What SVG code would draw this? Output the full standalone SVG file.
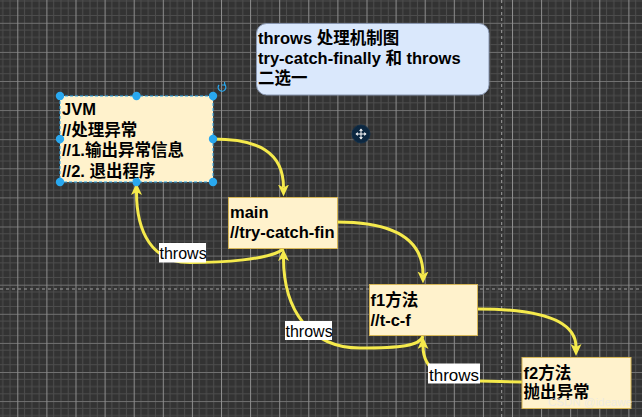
<svg xmlns="http://www.w3.org/2000/svg" width="642" height="417" viewBox="0 0 642 417">
<style>
.box{fill:#fff2cc;stroke:#d6b656;stroke-width:1}
.t{font-family:"Liberation Sans","Noto Sans CJK SC",sans-serif;font-weight:bold;font-size:16.5px;fill:#000}
.lbl{font-family:"Liberation Sans","Noto Sans CJK SC",sans-serif;font-size:16px;fill:#000}
.lblbg{fill:#fff}
.edge{fill:none;stroke:#f5ea4c;stroke-width:3}
.h{fill:#29a8ef}
</style>
<defs>
<pattern id="grid" x="17.3" y="22.8" width="29.1" height="29.1" patternUnits="userSpaceOnUse">
<rect width="29.1" height="29.1" fill="#333333"/>
<path d="M7.275,0V29.1M14.55,0V29.1M21.825,0V29.1M0,7.275H29.1M0,14.55H29.1M0,21.825H29.1" stroke="#4d4d4d" stroke-width="1"/>
<path d="M0,0.5H29.1" stroke="#727272" stroke-width="1"/>
<path d="M0.5,0V29.1" stroke="#8e8e8e" stroke-width="1"/>
</pattern>
<marker id="arr" markerUnits="userSpaceOnUse" markerWidth="13" markerHeight="12" refX="3" refY="5.5" orient="auto">
<path d="M0,0 L12,5.5 L0,11 L3,5.5 z" fill="#f5ea4c"/>
</marker>
</defs>
<rect width="642" height="417" fill="url(#grid)"/>
<path d="M0,289H642M501.7,0V417" stroke="#a0a0a0" stroke-width="1" stroke-dasharray="3,3" fill="none"/>

<g id="title">
<rect x="256.5" y="23.5" width="232.5" height="71.5" rx="10" fill="#dae8fc" stroke="#8896b0" stroke-width="1"/>
<text class="t" x="258" y="43.5">throws 处理机制图</text>
<text class="t" x="258" y="63.5">try-catch-finally 和 throws</text>
<text class="t" x="258" y="83.5">二选一</text>
</g>

<g id="connectors">
<path class="edge" marker-end="url(#arr)" d="M213,139 C258,139 283.5,152 283.5,187.5"/>
<path class="edge" marker-end="url(#arr)" d="M337,222 C395,222 423,240 423,274.5"/>
<path class="edge" marker-end="url(#arr)" d="M478,309 C545,309 576,322 576,347"/>
<path class="edge" marker-end="url(#arr)" d="M283.5,249 C270,260 220,262.5 190,262.5 C152,262.5 136.5,232 136.5,192"/>
<path class="edge" marker-end="url(#arr)" d="M423,336 C420,346 400,348 360,348 C310,348 283.5,310 283.5,258"/>
<path class="edge" marker-end="url(#arr)" d="M522,382 L480,381 C445,381 423,372 423,346"/>
<g id="label1"><rect class="lblbg" x="159" y="243" width="47" height="19.5"/><text class="lbl" x="159.5" y="259">throws</text></g>
<g id="label2"><rect class="lblbg" x="285" y="321" width="47" height="19"/><text class="lbl" x="285.5" y="337">throws</text></g>
<g id="label3"><rect class="lblbg" x="428" y="363.5" width="52" height="20"/><text class="lbl" x="429" y="380.5" style="font-size:17px">throws</text></g>
</g>

<g id="jvm">
<rect x="60" y="96" width="153" height="86" fill="#fff2cc" stroke="#29a8ef" stroke-width="1" stroke-dasharray="3,2"/>
<text class="t" x="62" y="115">JVM</text>
<text class="t" x="62" y="135.5">//处理异常</text>
<text class="t" x="62" y="156">//1.输出异常信息</text>
<text class="t" x="62" y="176.5">//2. 退出程序</text>
<circle class="h" cx="60" cy="96" r="4.2"/><circle class="h" cx="136.5" cy="96" r="4.2"/><circle class="h" cx="213" cy="96" r="4.2"/>
<circle class="h" cx="60" cy="139" r="4.2"/><circle class="h" cx="213" cy="139" r="4.2"/>
<circle class="h" cx="60" cy="182" r="4.2"/><circle class="h" cx="136.5" cy="182" r="4.2"/><circle class="h" cx="213" cy="182" r="4.2"/>
<path d="M224.5,84.5 A3.8,3.8 0 1 1 219,85" fill="none" stroke="#29a8ef" stroke-width="1.3"/>
<path d="M224.5,82 L224.8,85 L221.8,85" fill="none" stroke="#29a8ef" stroke-width="1.2"/>
</g>

<g id="main">
<rect class="box" x="228.5" y="197.5" width="109" height="51"/>
<text class="t" x="230" y="218">main</text>
<text class="t" x="230" y="237.5">//try-catch-fin</text>
</g>

<g id="f1">
<rect class="box" x="369.5" y="284.5" width="108" height="51"/>
<text class="t" x="370.5" y="306">f1方法</text>
<text class="t" x="370.5" y="325.5">//t-c-f</text>
</g>

<g id="f2">
<rect class="box" x="522" y="357.5" width="109" height="51"/>
<text class="t" x="523.5" y="378.5">f2方法</text>
<text class="t" x="523.5" y="398">抛出异常</text>
</g>

<g id="moveicon">
<circle cx="361" cy="134" r="9" fill="#0c2740" stroke="#13304a" stroke-width="1"/>
<path d="M357,134H365M361,130V138" stroke="#ffffff" stroke-width="1"/>
<path d="M361,128.5l-2,2.2h4zM361,139.5l-2,-2.2h4zM355.5,134l2.2,-2v4zM366.5,134l-2.2,-2v4z" fill="#ffffff"/>
</g>

<text x="548" y="406" style="font-family:'Liberation Sans',sans-serif;font-size:11.5px;fill:#e8e8e8;opacity:0.7">CSDN @ideawe</text>
</svg>
